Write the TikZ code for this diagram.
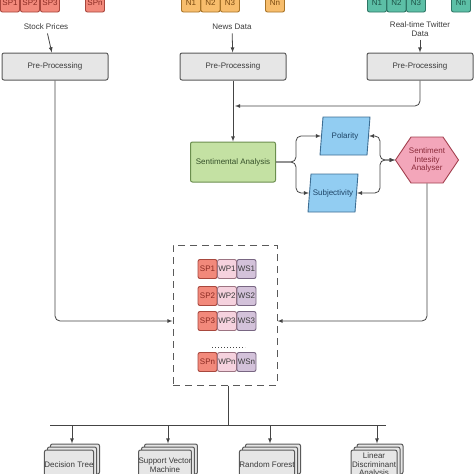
\documentclass[tikz,border=0pt]{standalone}
\usepackage{fontspec}
\setmainfont{Liberation Sans}
\usepackage{xcolor}
\usepackage{tikz}
\usetikzlibrary{calc, shapes.geometric, shapes.symbols, shadows}

\definecolor{spfill}{HTML}{F2897B}
\definecolor{spline}{HTML}{A8473D}
\definecolor{sptext}{HTML}{8A2A22}
\definecolor{newsfill}{HTML}{F7BD6C}
\definecolor{newsline}{HTML}{A87428}
\definecolor{newstext}{HTML}{7A4A10}
\definecolor{twfill}{HTML}{5CBFA6}
\definecolor{twline}{HTML}{2E7565}
\definecolor{twtext}{HTML}{1D5347}
\definecolor{wpfill}{HTML}{F5D2DE}
\definecolor{wpline}{HTML}{9C7482}
\definecolor{wsfill}{HTML}{D3C2DA}
\definecolor{wsline}{HTML}{786682}
\definecolor{boxfill}{HTML}{E6E6E6}
\definecolor{boxline}{HTML}{5A5A5A}
\definecolor{boxtext}{HTML}{3A3A3A}
\definecolor{greenfill}{HTML}{C4E1A3}
\definecolor{greenline}{HTML}{6B8E4E}
\definecolor{greentext}{HTML}{35502A}
\definecolor{bluefill}{HTML}{92CDF2}
\definecolor{blueline}{HTML}{3D6E94}
\definecolor{bluetext}{HTML}{1E4466}
\definecolor{hexfill}{HTML}{F3A6BA}
\definecolor{hexline}{HTML}{A3404F}
\definecolor{hextext}{HTML}{8A2A3A}
\definecolor{linkgray}{HTML}{444444}

\begin{document}
\begin{tikzpicture}[x=1pt, y=-1pt, font=\fontsize{8}{8.5}\selectfont,
  cell/.style={draw, rounded corners=2pt, line width=0.9pt, minimum width=19pt, minimum height=19pt, inner sep=0pt},
  spcell/.style={cell, draw=spline, fill=spfill, text=sptext},
  newscell/.style={cell, draw=newsline, fill=newsfill, text=newstext},
  twcell/.style={cell, draw=twline, fill=twfill, text=twtext},
  wpcell/.style={cell, draw=wpline, fill=wpfill, text=boxtext},
  wscell/.style={cell, draw=wsline, fill=wsfill, text=boxtext},
  prebox/.style={draw=boxline, fill=boxfill, rounded corners=2pt, line width=1pt, minimum width=106pt, minimum height=27pt, text=boxtext},
  model/.style={prebox, minimum width=46pt, minimum height=30pt, align=center, inner xsep=0pt, inner ysep=1pt,
    copy shadow={shadow xshift=6pt, shadow yshift=6pt, draw=boxline, fill=boxfill, line width=1pt},
    copy shadow={shadow xshift=3pt, shadow yshift=3pt, draw=boxline, fill=boxfill, line width=1pt}},
  slanted/.style={trapezium, trapezium left angle=68, trapezium right angle=112, trapezium stretches body,
    draw=blueline, fill=bluefill, text=bluetext, line width=0.9pt, minimum width=50pt, minimum height=38pt, inner sep=0pt},
  link/.style={draw=linkgray, line width=0.8pt, rounded corners=5pt},
  arrow/.style={link, -latex}]
  \clip (0, 0) rectangle (474, 474);

  % Stock prices
  \node[spcell] (sp1) at (10, 2.5) {SP1};
  \node[spcell] (sp2) at (30, 2.5) {SP2};
  \node[spcell] (sp3) at (50, 2.5) {SP3};
  \node[spcell] (spn) at (95, 2.5) {SPn};
  \node[text=boxtext] (stock) at (46, 27) {Stock Prices};
  \node[prebox] (pre1) at (55, 66.5) {Pre-Processing};
  \draw[arrow] (stock) -- (pre1);

  % News data
  \node[newscell] (n1) at (191, 2.5) {N1};
  \node[newscell] (n2) at (210.5, 2.5) {N2};
  \node[newscell] (n3) at (230, 2.5) {N3};
  \node[newscell] (nn) at (275, 2.5) {Nn};
  \node[text=boxtext] (news) at (232, 27) {News Data};
  \node[prebox] (pre2) at (233, 66.5) {Pre-Processing};
  \draw[arrow] (news) -- (pre2);

  % Twitter data
  \node[twcell] (t1) at (377, 2.5) {N1};
  \node[twcell] (t2) at (396.5, 2.5) {N2};
  \node[twcell] (t3) at (416, 2.5) {N3};
  \node[text=boxtext] (tdots) at (437, 0) {...};
  \node[twcell] (tn) at (461, 2.5) {Nn};
  \node[text=boxtext, align=center] (twitter) at (420, 29) {Real-time Twitter\\Data};
  \node[prebox] (pre3) at (420, 66.5) {Pre-Processing};
  \draw[arrow] (twitter) -- (pre3);

  % Sentiment part
  \node[draw=greenline, fill=greenfill, text=greentext, rounded corners=2pt, line width=1pt,
    minimum width=85pt, minimum height=40pt] (senti) at (233, 162) {Sentimental Analysis};
  \node[slanted] (polar) at (345, 136) {Polarity};
  \node[slanted] (subj) at (333, 193) {Subjectivity};
  \node[signal, signal to=east and west, signal pointer angle=112, draw=hexline, fill=hexfill,
    text=hextext, line width=0.9pt, minimum height=46pt, align=center,
    inner xsep=-2pt, inner ysep=1pt] (sia) at (427, 160) {Sentiment\\Intesity\\Analyser};
  \coordinate (merge) at (235, 106);
  \draw[arrow] (pre2) -- (senti);
  \draw[arrow] (pre3.south) |- (merge);
  \draw[arrow] (senti.east) -- ++(20, 0) |- (polar.west);
  \draw[arrow] (senti.east) -- ++(20, 0) |- (subj.west);
  \draw[link, latex-latex] (sia.west) -- ++(-15, 0) |- (polar.east);
  \draw[link, latex-latex] (sia.west) -- ++(-15, 0) |- (subj.east);

  % Combined features
  \node[draw=boxline, dash pattern=on 7pt off 5pt, line width=1pt, minimum width=104pt,
    minimum height=140pt] (store) at (225, 315) {};
  \node[spcell] (r1sp) at (207.5, 269) {SP1};
  \node[wpcell] (r1wp) at (227, 269) {WP1};
  \node[wscell] (r1ws) at (246.5, 269) {WS1};
  \node[spcell] (r2sp) at (207.5, 296) {SP2};
  \node[wpcell] (r2wp) at (227, 296) {WP2};
  \node[wscell] (r2ws) at (246.5, 296) {WS2};
  \node[spcell] (r3sp) at (207.5, 321) {SP3};
  \node[wpcell] (r3wp) at (227, 321) {WP3};
  \node[wscell] (r3ws) at (246.5, 321) {WS3};
  \node[spcell] (rnsp) at (207.5, 362) {SPn};
  \node[wpcell] (rnwp) at (227, 362) {WPn};
  \node[wscell] (rnws) at (246.5, 362) {WSn};
  \coordinate (dotl) at (212, 347);
  \coordinate (dotr) at (245, 347);
  \draw[linkgray, line width=1pt, dotted] (dotl) -- (dotr);
  \draw[arrow] (pre1.south) |- (store.west |- r3sp);
  \draw[arrow] (sia.south) |- (store.east |- r3ws);

  % Classifiers
  \node[model] (dt) at (69, 465) {Decision Tree};
  \node[model] (svm) at (165, 465) {Support Vector\\Machine};
  \node[model] (rf) at (267, 465) {Random Forest};
  \node[model] (lda) at (374, 465) {Linear\\Discriminant\\Analysis};
  \coordinate (busl) at (50, 425);
  \coordinate (busr) at (386, 425);
  \coordinate (dtin) at ([xshift=3pt, yshift=6pt]dt.north);
  \coordinate (svmin) at ([xshift=3pt, yshift=6pt]svm.north);
  \coordinate (rfin) at ([xshift=3pt, yshift=6pt]rf.north);
  \coordinate (ldain) at ([xshift=3pt, yshift=6pt]lda.north);
  \draw[link] ([xshift=3pt]store.south) -- ([xshift=3pt]store.south |- busl);
  \draw[link] (busl) -- (busr);
  \draw[arrow] (dtin |- busl) -- (dtin);
  \draw[arrow] (svmin |- busl) -- (svmin);
  \draw[arrow] (rfin |- busl) -- (rfin);
  \draw[arrow] (ldain |- busl) -- (ldain);
\end{tikzpicture}
\end{document}
